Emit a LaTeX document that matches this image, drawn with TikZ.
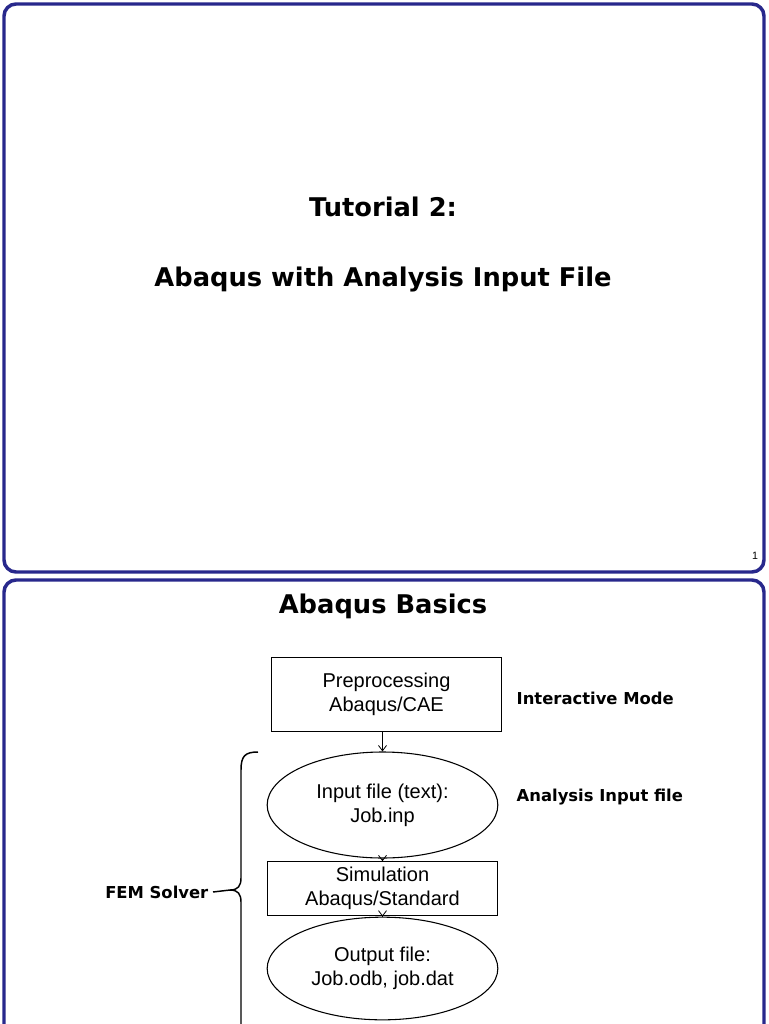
\documentclass[tikz,border=0pt]{standalone}
\usepackage{fontspec}
\setmainfont{Liberation Sans}
\newfontfamily\comic{DejaVu Sans}
\definecolor{slideblue}{RGB}{40,40,140}
\begin{document}
\begin{tikzpicture}[x=0.75pt,y=-0.75pt,
  slide/.style={draw=slideblue,line width=2.6pt,rounded corners=9pt,fill=white},
  ttl/.style={font=\comic\bfseries\fontsize{19.3}{24}\selectfont},
  lbl/.style={font=\comic\bfseries\fontsize{12.3}{14}\selectfont},
  boxx/.style={draw,line width=0.8pt,minimum width=173pt,align=center,font=\fontsize{15}{18}\selectfont},
  ell/.style={draw,ellipse,line width=0.8pt,minimum width=173pt,align=center,font=\fontsize{15}{18}\selectfont,inner sep=0pt},
  arr/.style={->,>={Straight Barb[length=4pt,width=6pt]},line width=0.6pt}]
\usetikzlibrary{shapes.geometric,arrows.meta}
\useasboundingbox (0,0) rectangle (768,1024);
\begin{scope}
\clip (0,0) rectangle (768,1024);
\draw[slide] (4,4) rectangle (764,572);
\draw[slide] (4,580) rectangle (764,1050);
\node[ttl] (t1) at (383,207) {Tutorial 2:};
\node[ttl] (t2) at (383,279) {Abaqus with Analysis Input File};
\node[font=\fontsize{8}{10}\selectfont] (pg) at (755,556) {1};
\node[ttl] (t3) at (383,606) {Abaqus Basics};
\node[boxx,minimum height=55pt] (b1) at (386.5,694.5) {Preprocessing\\Abaqus/CAE};
\node[ell,minimum height=79.5pt] (e1) at (382.5,805) {Input file (text):\\Job.inp};
\node[boxx,minimum height=40pt] (b2) at (382.5,888.5) {Simulation\\Abaqus/Standard};
\node[ell,minimum height=77pt] (e2) at (382.5,968.5) {Output file:\\Job.odb, job.dat};
\draw[arr] (b1.south -| e1.north) -- (e1.north);
\draw[arr] (e1.south) -- (b2.north);
\draw[arr] (b2.south) -- (e2.north);
\node[lbl,anchor=west] (l1) at (512,698) {Interactive Mode};
\node[lbl,anchor=west] (l2) at (512,797) {Analysis Input file};
\node[lbl,anchor=east] (l3) at (213,892) {FEM Solver};
\coordinate (bt) at (258,752);
\coordinate (bk) at (230,890);
\draw[line width=1.1pt] (bt) .. controls (245,752) and (241,756) .. (241,770) -- (241,878)
  .. controls (241,886) and (238,890) .. (bk) .. controls (238,890) and (241,894) .. (241,902) -- (241,1030);
\draw[line width=1.1pt] (l3.east) -- (bk);
\end{scope}
\end{tikzpicture}
\end{document}
